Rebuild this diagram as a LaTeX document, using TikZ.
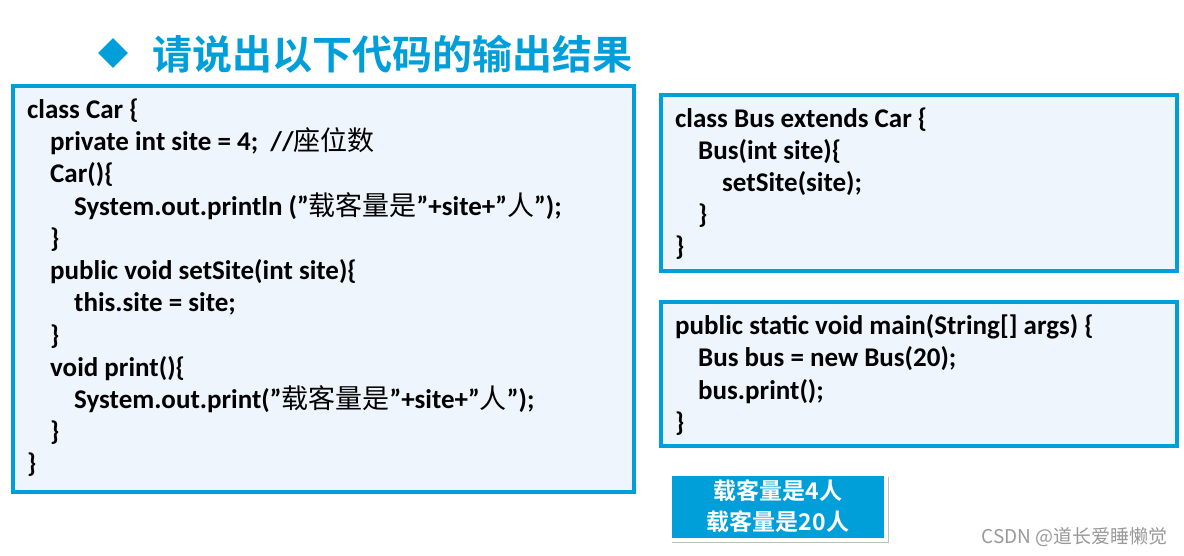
\documentclass[tikz,border=0pt]{standalone}
\usepackage{fontspec}
\setmainfont{Carlito}
\newfontfamily\cjkb{Noto Sans CJK SC Bold}
\newfontfamily\cjk{Noto Sans CJK SC}
\definecolor{blu}{HTML}{009FDA}
\definecolor{pale}{HTML}{EEF5FC}
\begin{document}
\begin{tikzpicture}[x=1pt,y=-1pt,
  box/.style={draw=blu,line width=4pt,fill=pale},
  code/.style={anchor=base west,inner sep=0pt,font=\fontsize{27}{30}\bfseries}]
\useasboundingbox (0,0) rectangle (1184,555);
\fill[white] (0,0) rectangle (1184,555);
\node[fill=blu,minimum size=21pt,rotate=45,inner sep=0pt] (dia) at (113,53) {};
\node[anchor=west,inner sep=0pt,text=blu,font=\fontsize{40}{44}\cjkb] (title) at (152,54) {请说出以下代码的输出结果};
\draw[box] (13,86) rectangle (634,492);
\node (l1)[code] at (27,118) {class Car \{};
\node (l2)[code] at (50,150) {private int site = 4;\ \ //{\cjk\mdseries 座位数}};
\node (l3)[code] at (50,182) {Car()\{};
\node (l4)[code] at (74,215) {System.out.println ("{\cjk\mdseries 载客量是}"+site+"{\cjk\mdseries 人}");};
\node (l5)[code] at (50,247) {\}};
\node (l6)[code] at (50,279) {public void setSite(int site)\{};
\node (l7)[code] at (74,311) {this.site = site;};
\node (l8)[code] at (50,344) {\}};
\node (l9)[code] at (50,376) {void print()\{};
\node (l10)[code] at (74,408) {System.out.print("{\cjk\mdseries 载客量是}"+site+"{\cjk\mdseries 人}");};
\node (l11)[code] at (50,440) {\}};
\node (l12)[code] at (27,472) {\}};
\draw[box] (661,95) rectangle (1177,271);
\node (b1)[code] at (675,127) {class Bus extends Car \{};
\node (b2)[code] at (698,159) {Bus(int site)\{};
\node (b3)[code] at (722,191) {setSite(site);};
\node (b4)[code] at (698,223) {\}};
\node (b5)[code] at (675,255) {\}};
\draw[box] (661,302) rectangle (1177,446);
\node (m1)[code] at (675,334) {public static void main(String[] args) \{};
\node (m2)[code] at (698,366) {Bus bus = new Bus(20);};
\node (m3)[code] at (698,399) {bus.print();};
\node (m4)[code] at (675,431) {\}};
\fill[black!25] (672,477) rectangle (889,543);
\draw[fill=blu,draw=white,line width=4pt] (670,474) rectangle (886,540);
\node[text=white,align=center,font=\fontsize{23}{31}\cjkb,inner sep=0pt] (ans) at (778,506) {载客量是4人\\载客量是20人};
\node[anchor=east,text=gray!80,font=\fontsize{19}{22}\cjk,inner sep=0pt] (csdn) at (1168,537) {CSDN @道长爱睡懒觉};
\end{tikzpicture}
\end{document}
